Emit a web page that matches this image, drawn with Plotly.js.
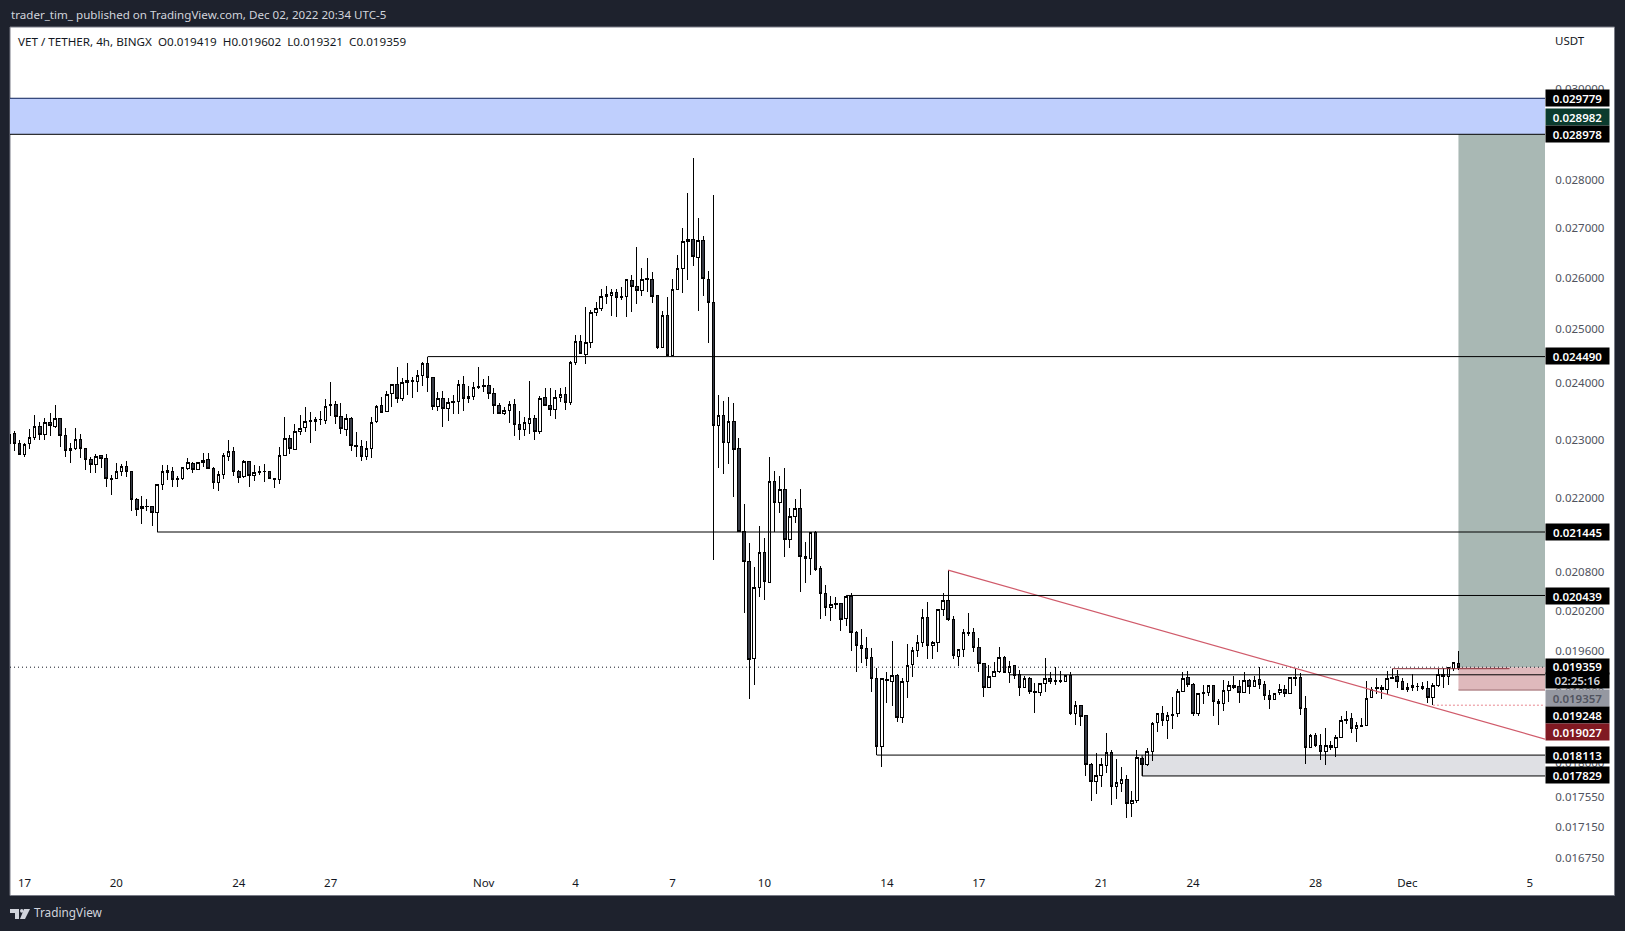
<!DOCTYPE html>
<html><head><meta charset="utf-8">
<style>html,body{margin:0;padding:0;background:#1e222d;overflow:hidden}
.boxlayer path{shape-rendering:crispEdges}</style>
<script src="https://cdn.plot.ly/plotly-3.0.1.min.js"></script>
</head><body><div id="chart" style="width:1625px;height:931px"></div>
<script>
// 4h candles, values in millionths of a USDT
const opens=[23092,23109,22935,22740,22929,23033,23233,23086,23303,23227,
23374,23074,22814,22843,23004,22849,22660,22568,22723,22677,
22335,22330,22448,22539,22453,21983,21827,21871,21866,21762,
22229,22465,22453,22335,22330,22493,22591,22482,22602,22660,
22505,22262,22396,22706,22797,22453,22357,22625,22380,22453,
22453,22453,22335,22318,22723,23021,22832,23139,23209,23338,
23315,23356,23333,23621,23621,23409,23174,23374,22900,22883,
22706,22843,23315,23603,23497,23821,23983,23718,24013,24050,
24038,24139,24354,24109,23579,23730,23544,23675,23669,23982,
23754,23760,23940,23958,23964,23820,23603,23456,23508,23621,
23267,23179,23285,23373,23138,23748,23603,23532,23748,23802,
23651,24385,24774,24533,24756,25325,25401,25635,25654,25712,
25635,25635,25946,25830,25752,25985,25966,25654,24663,25268,
24515,25771,26183,26722,26763,26396,26742,25966,25518,23251,
23414,22953,23321,22849,21458,20976,19490,20567,21119,20644,
22284,21935,22152,21328,21702,21835,21055,21024,21431,20865,
20474,20258,20319,20319,20085,20428,19877,19682,19637,19505,
19197,18228,19182,19148,19231,18633,19148,19397,19603,19727,
20105,19682,19727,20227,20366,20074,19520,19623,19877,19877,
19652,19417,19067,19226,19295,19505,19283,19387,19256,19063,
19198,19010,18996,19126,19198,19169,19169,19150,19237,18692,
18810,18668,17987,17749,17839,17973,18152,17691,17727,17785,
17464,17504,18070,17987,18161,18570,18697,18598,18678,18697,
19010,19213,19112,18692,18996,18996,19097,18866,18838,19019,
19097,19083,18996,19169,19083,19184,19112,18952,18895,18986,
19039,18976,19213,19203,18767,18221,18388,18249,18161,18249,
18221,18360,18611,18625,18485,18513,18522,18924,19062,19062,
19038,19213,19227,19154,19038,19067,19081,19081,19052,18924,
19086,19222,19227,19344,19419];
const highs=[23092,23151,22992,22935,23186,23432,23303,23374,23462,23609,
23374,23197,22935,23197,23092,22849,22694,22746,22734,22746,
22385,22591,22579,22625,22459,21999,22039,21994,21871,22235,
22557,22557,22522,22374,22528,22683,22614,22608,22769,22769,
22522,22453,22774,22992,22866,22476,22642,22637,22557,22551,
22574,22459,22346,22866,23397,23074,23274,23432,23567,23479,
23391,23497,23712,24019,23682,23640,23444,23397,23127,22992,
22969,23391,23609,23755,23869,23989,24293,24092,24367,24122,
24237,24397,24478,24109,23850,23856,23742,23790,24061,24133,
23952,24031,24298,24079,24133,23916,23639,23573,23681,23717,
23503,23397,24043,23432,23772,23916,23916,23880,23910,23934,
24403,24888,24888,25427,25363,25518,25777,25836,25771,25771,
25816,25966,26044,26609,26190,26389,26110,25654,25344,25615,
25966,26443,26988,27720,28457,27194,26824,26123,27671,23791,
23683,23755,23647,23023,21901,21269,20886,21545,21350,22700,
22461,22375,22506,21840,21984,22157,21279,21436,21464,20897,
20598,20433,20418,20319,20428,20474,19903,19928,19808,19637,
19344,19187,19285,19742,19255,19197,19697,19652,19833,20237,
20335,19747,20227,20474,20835,20120,19623,19928,20165,19943,
19787,19427,19388,19441,19657,19530,19451,19387,19319,19237,
19213,19126,19126,19501,19290,19357,19304,19251,19290,18866,
18810,18678,18000,18138,18074,18419,18185,18061,17946,17839,
17629,18185,18093,18207,18575,18697,18795,18720,18924,19039,
19288,19303,19126,18991,19097,19097,19097,18895,19169,19165,
19232,19169,19290,19193,19237,19357,19160,19029,18981,19116,
19097,19213,19354,19271,18938,18402,18416,18407,18485,18305,
18388,18653,18725,18696,18569,18625,19154,19076,19198,19096,
19305,19330,19320,19198,19125,19257,19125,19149,19154,19125,
19330,19354,19354,19432,19602];
const lows=[22923,22803,22740,22706,22837,22992,22992,22992,23062,23209,
22872,22706,22602,22820,22677,22476,22425,22425,22511,22190,
22056,22318,22374,22357,21789,21708,21577,21789,21544,21441,
22145,22307,22190,22190,22307,22476,22425,22482,22533,22499,
22156,22123,22324,22631,22374,22257,22346,22190,22290,22385,
22274,22324,22173,22240,22723,22751,22820,23080,23133,22946,
23151,23262,23280,23409,23280,23098,23062,22803,22694,22631,
22654,22683,23297,23467,23497,23579,23652,23688,23791,23736,
23851,23952,23850,23520,23508,23226,23332,23450,23450,23508,
23640,23699,23898,23850,23724,23450,23444,23426,23297,23067,
22991,23067,23097,22991,23097,23597,23420,23361,23669,23520,
23609,24335,24540,24354,24644,25255,25350,25485,25262,25243,
25563,25243,25338,25485,25641,25719,25505,24626,24651,24503,
24503,25758,25699,25953,26230,25350,25641,24748,20997,22518,
22415,22586,22029,21447,20175,18904,19105,20423,20376,20644,
21440,21762,21050,21193,21599,20500,20638,20765,20818,20085,
20130,20054,20237,19903,19979,19603,19295,19417,19378,19006,
18113,17955,18847,18804,18572,18562,18919,19221,19515,19652,
19486,19486,19588,20130,20044,19476,19383,19515,19822,19588,
19295,18933,19067,19226,19270,19280,19130,19193,18948,19063,
18976,18706,18948,19005,19121,19107,19126,19150,18678,18537,
18522,17835,17499,17588,17682,17875,17447,17526,17611,17276,
17285,17464,17826,17969,18038,18438,18518,18336,18475,18640,
19010,19078,18650,18663,18828,18948,18659,18532,18729,18861,
19039,18847,18991,18967,19078,19044,18885,18758,18895,18962,
18933,18976,19090,18676,17998,18221,18231,18039,17971,18184,
18093,18356,18545,18416,18300,18499,18522,18910,18966,18900,
18971,19184,19052,19028,19005,19019,19014,19024,18838,18810,
19076,19052,19100,19310,19321];
const closes=[22923,22929,22740,22918,23039,23233,23086,23303,23244,23374,
23068,22809,22849,23004,22843,22654,22568,22711,22677,22330,
22318,22453,22539,22448,21977,21816,21866,21860,21762,22235,
22453,22436,22313,22318,22511,22608,22482,22597,22642,22499,
22262,22402,22717,22797,22448,22346,22625,22380,22436,22425,
22448,22330,22318,22728,23021,22843,23145,23197,23321,23315,
23356,23350,23585,23597,23403,23191,23374,22895,22883,22706,
22849,23303,23585,23479,23803,23983,23724,24019,24050,24038,
24146,24354,24103,23579,23730,23544,23657,23645,23982,23730,
23724,23928,23916,23940,23820,23603,23456,23514,23621,23267,
23179,23303,23373,23138,23730,23603,23526,23748,23802,23657,
24385,24774,24552,24756,25325,25401,25635,25674,25712,25609,
25615,25966,25830,25752,25966,25966,25635,24663,25268,24515,
25771,26183,26722,26763,26416,26742,25985,25518,23251,23414,
22953,23321,22831,21447,20976,19476,20567,21119,20654,22284,
21935,22152,21328,21702,21835,21055,21024,21431,20844,20474,
20258,20304,20299,20074,20428,19877,19682,19633,19486,19196,
18228,19187,19162,19231,18633,19153,19383,19608,19727,20105,
19682,19727,20227,20366,20074,19535,19623,19877,19862,19652,
19417,19067,19226,19299,19505,19285,19372,19237,19063,19198,
19005,18996,19126,19198,19150,19155,19155,19237,18692,18810,
18654,17987,17758,17830,17987,18152,17691,17745,17785,17464,
17504,18084,17987,18166,18556,18697,18598,18668,18668,19010,
19198,19107,18697,18981,18981,19097,18866,18838,19019,19097,
19068,18996,19169,19083,19169,19112,18952,18895,18981,19039,
18976,19213,19198,18767,18221,18388,18244,18161,18249,18212,
18360,18596,18596,18485,18527,18527,18904,19038,19047,19038,
19198,19198,19154,19038,19067,19096,19076,19052,18924,19096,
19257,19257,19354,19427,19359];

const xTickIndex=[3,21,45,63,93,111,130,148,172,190,214,232,256,274,298];
const xTickLabels=["17","20","24","27","Nov","4","7","10","14","17","21","24","28","Dec","5"];
const yTickValues=[0.03,0.029,0.028,0.027,0.026,0.025,0.024,0.023,0.022,0.0208,0.0202,0.0196,0.019,0.018,0.01755,0.01715,0.01675];
const yTickLabels=["0.030000","0.029000","0.028000","0.027000","0.026000","0.025000","0.024000","0.023000","0.022000","0.020800","0.020200","0.019600","0.019000","0.018000","0.017550","0.017150","0.016750"];

const lastPrice=0.019359, zoneTop=0.029779, zoneBottom=0.028978, stopPrice=0.019027;
const demandTop=0.018113, demandBottom=0.017829, redDotted=0.01881, redShort=0.019337;
const levelPrices=[0.02449,0.021445,0.020439,0.019248,0.018113];
const levelStartIndex=[82,29,164,196,170];
const trendIndex=[184,300.96], trendPrice=[0.020835,0.018334];
const positionStartIndex=284;

const xRange=[0.157,300.96], yRange=[0.016604,0.03143];
const xEnd=xRange[1];
const candleIndex=opens.map((_,i)=>i);
const toPrice=a=>a.map(v=>v/1e6);

const FONT='"Noto Sans", sans-serif';
const PX=(x)=>(x-10)/1535, PY=(y)=>(870-y)/843;

const trace={type:'candlestick',x:candleIndex,open:toPrice(opens),high:toPrice(highs),low:toPrice(lows),close:toPrice(closes),
  increasing:{line:{color:'#000000',width:1},fillcolor:'#ffffff'},
  decreasing:{line:{color:'#000000',width:1},fillcolor:'#363a45'},
  whiskerwidth:0,hoverinfo:'skip',showlegend:false};

function line(x0,y0,x1,y1,color,width,dash,layer){return {type:'line',xref:'x',yref:'y',x0,y0,x1,y1,layer:layer||'above',line:{color,width,dash:dash||'solid'}};}
function rect(x0,y0,x1,y1,fill,layer){return {type:'rect',xref:'x',yref:'y',x0,y0,x1,y1,layer:layer||'below',fillcolor:fill,line:{width:0}};}

const shapes=[
 {type:'rect',xref:'paper',yref:'paper',x0:PX(10),x1:PX(1614.5),y0:PY(895.5),y1:PY(27),fillcolor:'#ffffff',line:{color:'#787b86',width:1},layer:'below'},
 rect(xRange[0],zoneBottom,xEnd,zoneTop,'#bfcffd'),
 rect(positionStartIndex,lastPrice,xEnd,zoneBottom,'#a9b8b4'),
 rect(positionStartIndex,stopPrice,xEnd,lastPrice,'#dfb9bc'),
 rect(222,demandBottom,xEnd,demandTop,'#dfe0e4'),
 line(xRange[0],zoneTop,xEnd,zoneTop,'#0b1f58',1),
 line(xRange[0],zoneBottom,xEnd,zoneBottom,'#000000',1),
 line(positionStartIndex,stopPrice,xEnd,stopPrice,'#b58a8e',1.5,'solid','below'),
 line(xRange[0],lastPrice,xEnd,lastPrice,'#131722',1,'1px,3px','below'),
 line(222,demandBottom,xEnd,demandBottom,'#000000',1),
 line(222,demandBottom,222,demandTop,'#000000',1),
 line(279,redDotted,xEnd,redDotted,'#e8868e',1,'2px,2px'),
 line(271,redShort,294,redShort,'#8c2f39',1),
 line(trendIndex[0],trendPrice[0],trendIndex[1],trendPrice[1],'#d05a6a',1.2),
 {type:'path',xref:'paper',yref:'paper',layer:'above',fillcolor:'#d1d4dc',line:{width:0},
  path:`M${PX(10)},${PY(909)}L${PX(19)},${PY(909)}L${PX(19)},${PY(919)}L${PX(15)},${PY(919)}L${PX(15)},${PY(913)}L${PX(10)},${PY(913)}Z`},
 {type:'path',xref:'paper',yref:'paper',layer:'above',fillcolor:'#d1d4dc',line:{width:0},
  path:`M${PX(24)},${PY(909)}L${PX(30)},${PY(909)}L${PX(25)},${PY(919)}L${PX(20)},${PY(919)}Z`},
 {type:'circle',xref:'paper',yref:'paper',layer:'above',fillcolor:'#d1d4dc',line:{width:0},x0:PX(20),x1:PX(23.5),y0:PY(912.7),y1:PY(909)}
];
levelPrices.forEach((p,i)=>shapes.push(line(levelStartIndex[i],p,xEnd,p,'#000000',1)));

function text(t,x,y,color,size){return {xref:'paper',yref:'paper',x:PX(x),y:PY(y),xanchor:'left',yanchor:'middle',text:t,showarrow:false,
  font:{family:FONT,size:size||11.5,color}};}
function badge(t,y,bg,color,h){return {xref:'paper',yref:'paper',x:PX(1545),y:PY(y-0.7),xanchor:'left',yanchor:'middle',text:t,showarrow:false,
  width:63,height:h||16,align:'center',valign:'middle',bgcolor:bg,borderpad:0,
  font:{family:FONT,size:11.5,color,weight:600}};}

const annotations=[
 text('trader_tim_ published on TradingView.com, Dec 02, 2022 20:34 UTC-5',9,14.7,'#d1d4dc',11.6),
 text('VET / TETHER, 4h, BINGX  O0.019419  H0.019602  L0.019321  C0.019359',15.8,41.5,'#131722',11.65),
 text('USDT',1553,40.5,'#131722',11.5),
 text('TradingView',32,912,'#d1d4dc',11.8),
 badge('0.029779',98.3,'#000000','#ffffff'),
 badge('0.028982',117.3,'#0b3b2e','#ffffff'),
 badge('0.028978',134.3,'#000000','#ffffff'),
 badge('0.024490',356.7,'#000000','#ffffff'),
 badge('0.021445',532.5,'#000000','#ffffff'),
 badge('0.020439',596.3,'#000000','#ffffff'),
 badge('0.019359',666.7,'#000000','#ffffff',15),
 badge('02:25:16',681.5,'#000000','#d1d4dc',15),
 badge('0.019357',698.7,'#9598a1','#50535e'),
 badge('0.019248',715.7,'#000000','#ffffff'),
 badge('0.019027',732.3,'#801922','#ffffff'),
 badge('0.018113',755.3,'#000000','#ffffff'),
 badge('0.017829',776,'#000000','#ffffff')
];

const layout={width:1625,height:931,paper_bgcolor:'#1e222d',plot_bgcolor:'rgba(0,0,0,0)',showlegend:false,
 margin:{l:10,r:80,t:27,b:61,pad:0},hovermode:false,dragmode:false,
 font:{family:FONT,size:11.5,color:'#50535e'},
 xaxis:{type:'linear',range:xRange,rangeslider:{visible:false},showgrid:false,zeroline:false,showline:false,
   tickmode:'array',tickvals:xTickIndex,ticktext:xTickLabels,ticks:'outside',ticklen:2,tickcolor:'rgba(0,0,0,0)',
   tickfont:{family:FONT,size:11.5,color:'#131722'}},
 yaxis:{type:'log',side:'right',range:yRange.map(Math.log10),showgrid:false,zeroline:false,showline:false,
   tickmode:'array',tickvals:yTickValues,ticktext:yTickLabels,ticks:'outside',ticklen:7,tickcolor:'rgba(0,0,0,0)',
   tickfont:{family:FONT,size:11.5,color:'#50535e'}},
 shapes,annotations};
Plotly.newPlot('chart',[trace],layout,{displayModeBar:false,staticPlot:true});
</script></body></html>
